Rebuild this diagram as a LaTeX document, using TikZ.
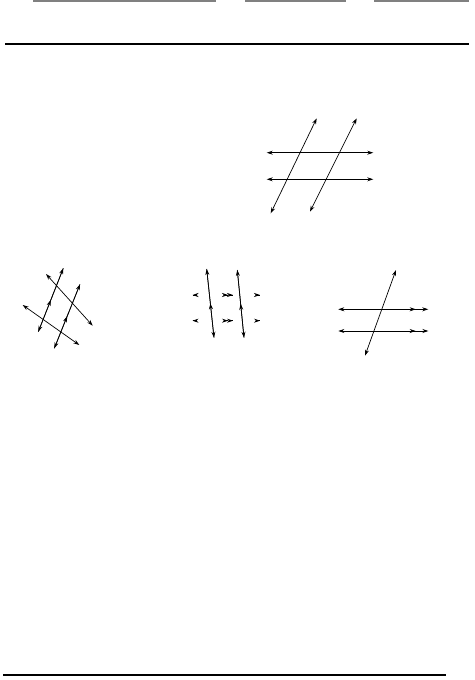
\documentclass[tikz,border=0pt]{standalone}
\usetikzlibrary{arrows.meta,decorations.markings}

\begin{document}
\begin{tikzpicture}[x=1pt,y=-1pt]
	\tikzstyle{every path}=[line width=0.7pt]
	\tikzstyle{tip}=[-{Stealth[length=6pt,width=4pt]}]
	\tikzstyle{dbl}=[{Stealth[length=6pt,width=4pt]}-{Stealth[length=6pt,width=4pt]}]
	\tikzstyle{midtip}=[postaction={decorate},
	decoration={markings,mark=at position 0.5 with {\arrow{Stealth[length=6pt,width=4pt]}}}]
	\tikzstyle{bar}=[line width=2pt,black!50]
	\tikzstyle{rule}=[line width=2.2pt]
	\useasboundingbox (0,0) rectangle (474,680);
	% blanks at the top
	\coordinate (b1l) at (33,0.5); \coordinate (b1r) at (216,0.5);
	\coordinate (b2l) at (245,0.5); \coordinate (b2r) at (346,0.5);
	\coordinate (b3l) at (374,0.5); \coordinate (b3r) at (469,0.5);
	\draw[bar] (b1l) -- (b1r);
	\draw[bar] (b2l) -- (b2r);
	\draw[bar] (b3l) -- (b3r);
	% rules
	\coordinate (topl) at (5,44); \coordinate (topr) at (469,44);
	\coordinate (botl) at (3,675); \coordinate (botr) at (446,675);
	\draw[rule] (topl) -- (topr);
	\draw[rule] (botl) -- (botr);
	% first figure
	\coordinate (h1l) at (266.7,152.7); \coordinate (h1r) at (373.3,152.7);
	\coordinate (h2l) at (266.7,179.3); \coordinate (h2r) at (373.3,179.3);
	\coordinate (s1t) at (316.7,118.3); \coordinate (s1b) at (270.7,213.3);
	\coordinate (s2t) at (356.7,118.3); \coordinate (s2b) at (310,211.7);
	\draw[dbl] (h1l) -- (h1r);
	\draw[dbl] (h2l) -- (h2r);
	\draw[dbl] (s1t) -- (s1b);
	\draw[dbl] (s2t) -- (s2b);
	% second figure
	\coordinate (at) at (63.3,268.3); \coordinate (ab) at (38.3,331.7);
	\coordinate (bt) at (80,284.3); \coordinate (bb) at (54.3,348.3);
	\coordinate (ct) at (46,274); \coordinate (cb) at (92.7,325.7);
	\coordinate (dt) at (22.7,305); \coordinate (db) at (79.3,345);
	\draw[dbl] (at) -- (ab);
	\draw[midtip] (ab) -- (at);
	\draw[dbl] (bt) -- (bb);
	\draw[midtip] (bb) -- (bt);
	\draw[dbl] (ct) -- (cb);
	\draw[dbl] (dt) -- (db);
	% third figure
	\coordinate (et) at (206.7,269); \coordinate (eb) at (214,337.7);
	\coordinate (ft) at (237.3,270); \coordinate (fb) at (244,337.7);
	\draw[dbl] (et) -- (eb);
	\draw[midtip] (eb) -- (et);
	\draw[dbl] (ft) -- (fb);
	\draw[midtip] (fb) -- (ft);
	% loose tips
	\foreach \y/\n in {295/u,320.7/v} {
		\coordinate (\n a0) at (193,\y); \coordinate (\n a) at (192.5,\y);
		\coordinate (\n b0) at (227.5,\y); \coordinate (\n b) at (228,\y);
		\coordinate (\n c0) at (232.5,\y); \coordinate (\n c) at (233,\y);
		\coordinate (\n d0) at (259.5,\y); \coordinate (\n d) at (260,\y);
		\draw[tip] (\n a0) -- (\n a);
		\draw[tip] (\n b0) -- (\n b);
		\draw[tip] (\n c0) -- (\n c);
		\draw[tip] (\n d0) -- (\n d);
	}
	% fourth figure
	\coordinate (gl) at (338.3,309.3); \coordinate (gr) at (428.3,309.3);
	\coordinate (kl) at (338.3,331); \coordinate (kr) at (428.3,331);
	\coordinate (st) at (396,270); \coordinate (sb) at (365,355.7);
	\foreach \l/\r in {gl/gr,kl/kr} {
		\draw[dbl,postaction={decorate},decoration={markings,
			mark=at position 0.86 with {\arrow{Stealth[length=6pt,width=4pt]}}}]
			(\l) -- (\r);
	}
	\draw[dbl] (st) -- (sb);
\end{tikzpicture}
\end{document}
